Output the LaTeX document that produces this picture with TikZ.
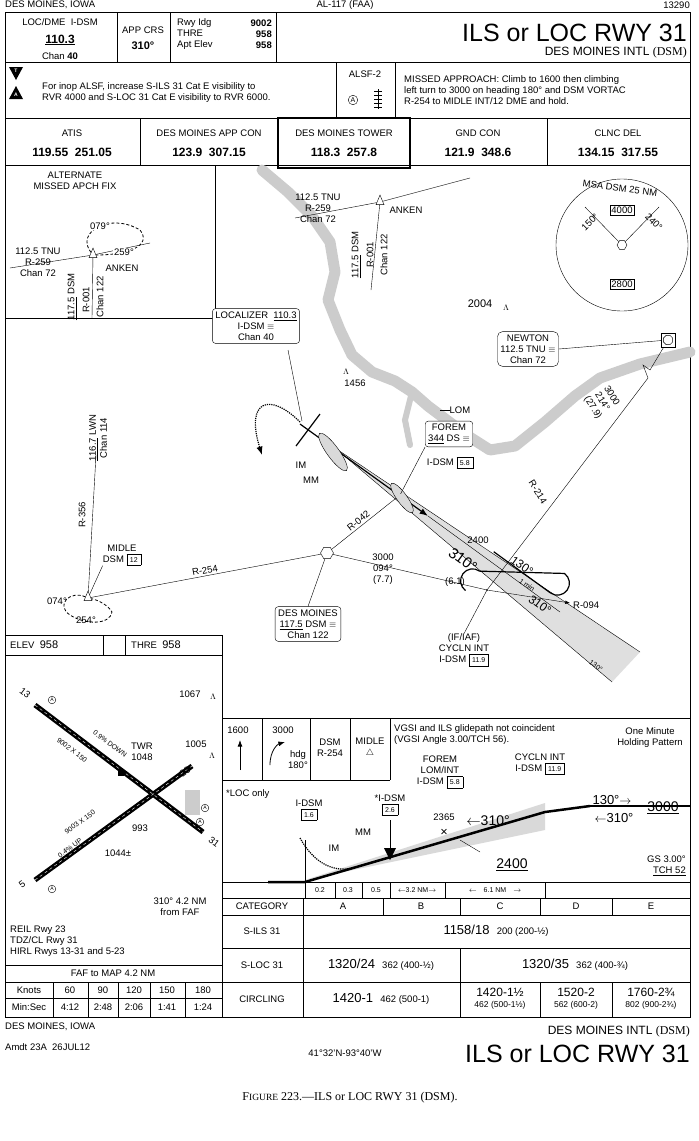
\documentclass[tikz,border=0pt]{standalone}
\usepackage{fontspec}
\setmainfont{Liberation Sans}
\newfontfamily\capfont{Liberation Serif}
\newfontfamily\djv{DejaVu Sans}
\usetikzlibrary{shapes.geometric,arrows.meta}
\newcommand\fs{\fontsize{9.5}{11}\selectfont}
\newcommand\fb{\fontsize{12}{13}\selectfont\bfseries}
\newcommand\bx[1]{\fbox{\scriptsize #1}}
\begin{document}
\begin{tikzpicture}[x=1pt,y=-1pt,
 every node/.style={inner sep=0pt,font=\fs},
 riv/.style={line width=11pt,gray!40,line join=round,line cap=round},
 bxs/.style={draw,rounded corners=3pt,fill=white,inner sep=3pt,align=center},
 vor/.style={draw,regular polygon,regular polygon sides=6,minimum size=13pt,fill=white},
 fix/.style={draw,isosceles triangle,shape border rotate=90,minimum size=8pt,inner sep=0,fill=white},
 hold/.style={densely dashed,thick},
 mapd/.style={densely dotted,very thick}]
\useasboundingbox[fill=white] (0,0) rectangle (699,1141);
% header
\node[anchor=west] (h1) at (5,5) {DES MOINES, IOWA};
\node (h2) at (345,5) {AL-117 (FAA)};
\node[anchor=east] (h3) at (690,5) {13290};
\draw[thick] (5,12) rectangle (690,1017);
\draw (5,62)--(690,62) (5,118)--(690,118) (5,165)--(690,165);
\draw (117,12)--(117,62) (170,12)--(170,62) (276,12)--(276,62);
\node (loc1) at (60,22) {LOC/DME\ \ I-DSM};
\node (loc2) at (60,40) {\fb\underline{110.3}};
\node (loc3) at (60,56) {Chan \textbf{40}};
\node (crs1) at (143,30) {APP CRS};
\node (crs2) at (143,46) {\bfseries\fontsize{11}{12}\selectfont 310°};
\node[anchor=west,align=left] (rw1) at (177,34) {Rwy Idg\\THRE\\Apt Elev};
\node[anchor=east,align=right] (rw2) at (272,34) {\bfseries 9002\\\bfseries 958\\\bfseries 958};
\node[anchor=east] (ttl) at (687,33) {\fontsize{25}{27}\selectfont ILS or LOC RWY 31};
\node[anchor=east] (ttl2) at (687,53) {\fontsize{12}{13}\selectfont DES MOINES INTL \capfont(DSM)};
% row 2
\fill (9,67)--(23,67)--(16,80)--cycle; \node[white] (tT) at (16,71) {\tiny\bfseries T};
\fill (16,86)--(23,99)--(9,99)--cycle; \node[white] (tA) at (16,95) {\tiny\bfseries A};
\node[anchor=west,align=left] (brf) at (42,93) {For inop ALSF, increase S-ILS 31 Cat E visibility to\\RVR 4000 and S-LOC 31 Cat E visibility to RVR 6000.};
\draw (336,62)--(336,118) (395,62)--(395,118);
\node (alsf) at (365,74) {ALSF-2};
\node[draw,circle,inner sep=1pt] (alsfA) at (353,100) {\scriptsize A};
\draw (378,89)--(378,109); \foreach \yy in {91,95,99,103,107}{\draw (374,\yy)--(382,\yy);}
\node[anchor=west,align=left] (ma) at (404,90) {MISSED APPROACH: Climb to 1600 then climbing\\left turn to 3000 on heading 180° and DSM VORTAC\\R-254 to MIDLE INT/12 DME and hold.};
% comm
\draw (140,118)--(140,165) (547,118)--(547,165);
\draw[line width=2pt] (278,118) rectangle (410,168);
\node (c1) at (72,133) {ATIS}; \node (c1b) at (72,152) {\fb 119.55 \ 251.05};
\node (c2) at (209,133) {DES MOINES APP CON}; \node (c2b) at (209,152) {\fb 123.9 \ 307.15};
\node (c3) at (344,133) {DES MOINES TOWER}; \node (c3b) at (344,152) {\fb 118.3 \ 257.8};
\node (c4) at (478,133) {GND CON}; \node (c4b) at (478,152) {\fb 121.9 \ 348.6};
\node (c5) at (618,133) {CLNC DEL}; \node (c5b) at (618,152) {\fb 134.15 \ 317.55};
% plan view river
\draw[riv] (262,170)--(288,192)--(312,216)--(330,242)--(335,272)--(328,300)--(340,330)--(352,355)--(372,372)--(395,381)--(412,392)--(428,406)--(448,421)--(468,436)--(490,450)--(515,446)--(545,422)--(575,396)--(600,378)--(640,364)--(690,352);
\draw[line width=6pt,gray!40,line cap=round] (412,392)--(405,420)--(410,445);
% feather
\fill[gray!25] (335,448)--(640,652)--(612,682)--cycle;
\draw[thin] (335,448)--(640,652) (335,448)--(612,682);
\node[rotate=-36] (f130) at (596,666) {\scriptsize 130°};
% MSA
\draw (622,245) circle (66);
\node[rotate=-8] (msa) at (620,188) {MSA DSM 25 NM};
\node[vor,minimum size=10pt] (msac) at (622,245) {};
\draw (msac)--(585,207) (msac)--(659,207);
\node[rotate=45] (m150) at (590,222) {150°};
\node[rotate=-45] (m240) at (654,222) {240°};
\node[draw,inner sep=1.5pt] (m4000) at (622,210) {4000};
\node[draw,inner sep=1.5pt] (m2800) at (622,284) {2800};
% alternate box
\draw (5,165) rectangle (215,318);
\node[align=center] (alt) at (75,181) {ALTERNATE\\MISSED APCH FIX};
\node[fix] (aank) at (93,255) {};
\draw (10,268)--(aank)--(150,243);
\draw (aank)--(92,318);
\draw[hold] (aank) .. controls (75,232) and (110,212) .. (140,230) .. controls (152,245) and (130,255) .. (aank);
\node[fill=white,inner sep=1pt] (a079) at (100,226) {079°}; \node[fill=white,inner sep=1pt] (a259) at (124,252) {259°};
\node[align=center] (atnu) at (38,262) {112.5 TNU\\R-259\\Chan 72};
\node (aan) at (122,268) {ANKEN};
\node[rotate=90] (av1) at (72,297) {\underline{117.5} DSM};
\node[rotate=90] (av2) at (86,300) {R-001};
\node[rotate=90] (av3) at (100,297) {Chan 122};
% ANKEN
\node[fix] (ank) at (380,202) {};
\draw (295,218)--(ank)--(470,178);
\draw (ank)--(371,290);
\node[align=center] (tnu) at (318,208) {112.5 TNU\\R-259\\Chan 72};
\node (ankl) at (406,210) {ANKEN};
\node[rotate=90] (dv1) at (356,255) {\underline{117.5} DSM};
\node[rotate=90] (dv2) at (370,255) {R-001};
\node[rotate=90] (dv3) at (384,255) {Chan 122};
% spot elevations
\node (e2004) at (480,304) {\fontsize{11}{12}\selectfont 2004}; \node (e2004s) at (506,308) {\footnotesize$\Lambda$};
\node (e1456) at (355,383) {1456}; \node (e1456s) at (346,372) {\footnotesize$\Lambda$};
% NEWTON
\node[draw,minimum size=14pt,fill=white] (newt) at (668,340) {};
\node[draw,regular polygon,regular polygon sides=8,minimum size=10pt] (newt2) at (668,340) {};
\node[bxs,rounded corners=5pt] (newtb) at (528,349) {NEWTON\\112.5 TNU $\equiv$\\Chan 72};
\draw (newtb.east)--(newt);
% DES MOINES VOR and fixes
\node[vor] (dsm) at (327,553) {};
\node[fix] (midle) at (88,598) {};
\node[fill=black,circle,inner sep=0.8pt] (cycln) at (487,590) {};
\node[fill=black,circle,inner sep=0.8pt] (forem) at (400,495) {};
\draw (dsm)--node[sloped,above=2pt] {R-254} (midle);
\draw (dsm)--node[sloped,above=2pt,pos=0.45] {R-042} (forem);
\draw (dsm)--(cycln);
\node[align=center] (l094) at (383,569) {3000\\094°\\(7.7)};
\draw (newt)--(650,370)--(643,365)--(648,378)--(cycln);
\node[rotate=-58] (r214) at (538,492) {R-214};
\node[rotate=-58,align=center] (l214) at (602,402) {3000\\214°\\(27.9)};
\draw[-{Latex}] (cycln)--(570,603); \node[anchor=west] (r094) at (573,605) {R-094};
% localizer course
\draw[very thick,-{Latex}] (300,424)--(428,516);
\draw (428,516)--(560,612);
\draw[very thick] (296,446)--(320,414);
\draw[fill=gray!30,rotate around={-54:(333,452)}] (333,452) ellipse (23 and 6);
\draw[fill=gray!30,rotate around={-54:(402,498)}] (402,498) ellipse (18 and 5);
\node (im) at (301,465) {IM}; \node (mm) at (311,480) {MM};
\draw[mapd,-{Latex}] (300,422) .. controls (270,392) and (245,400) .. (262,455);
\node (l2400) at (478,540) {2400};
\node[rotate=-36,font=\fontsize{15}{16}\selectfont] (l310) at (463,560) {310°};
\node (l61) at (455,582) {(6.1)};
\draw[very thick,rotate around={-36:(515,582)}] (480,570)--(550,570) arc (90:-90:12)--(480,594) arc (270:90:12);
\node[rotate=-36,font=\fontsize{12}{13}\selectfont] (h130) at (522,566) {130°};
\node[rotate=-36] (h1m) at (527,585) {\scriptsize 1 min};
\node[rotate=-36,font=\fontsize{12}{13}\selectfont] (h310) at (540,605) {310°};
% LOCALIZER box
\node[bxs] (locb) at (256,326) {LOCALIZER \ \underline{110.3}\\I-DSM $\equiv$\\Chan 40};
\draw (288,350)--(302,421);
% LOM box
\node (lom) at (460,410) {LOM};
\node[bxs] (lomb) at (449,434) {FOREM\\\underline{344} DS $\equiv$};
\draw (lom.west)--(440,410); \draw (lomb.south west)--(forem);
\node (lomi) at (450,463) {I-DSM \bx{5.8}};
% DES MOINES box
\node[bxs] (dsmb) at (308,624) {DES MOINES\\\underline{117.5} DSM $\equiv$\\Chan 122};
\draw (dsmb.north)--(dsm);
% CYCLN
\node[align=center] (cyc) at (464,650) {(IF/IAF)\\CYCLN INT\\I-DSM \bx{11.9}};
\draw (cyc.north)--(cycln);
% MIDLE
\node[align=center] (midl) at (122,555) {MIDLE\\DSM \bx{12}};
\draw (midl.south west)--(midle);
\draw[hold] (midle) .. controls (70,590) and (55,605) .. (70,615) .. controls (85,625) and (110,625) .. (112,612) .. controls (108,605) and (98,600) .. (midle);
\node (m074) at (57,601) {074°}; \node (m254) at (86,620) {254°};
\draw (midle)--(96,455);
\node[rotate=90] (r356) at (82,515) {R-356};
\node[rotate=90,align=center] (lwn) at (98,438) {\underline{116.7} LWN\\Chan 114};
% lower frame lines
\draw (5,635)--(222,635) (5,655)--(222,655) (103,635)--(103,655) (125,635)--(125,655);
\draw (222,635)--(222,1017) (222,718)--(690,718);
\node[anchor=west] (elev) at (10,645) {ELEV \ \fontsize{11}{12}\selectfont 958};
\node[anchor=west] (thre) at (131,645) {THRE \ \fontsize{11}{12}\selectfont 958};
% airport
\draw[line width=5pt] (35,705)--(203,832);
\draw[line width=5pt] (35,880)--(192,766);
\draw[white,dashed,thin] (35,705)--(203,832) (35,880)--(192,766);
\node[rotate=-37] (r1) at (72,750) {\scriptsize 9002 X 150};
\node[rotate=-37] (r2) at (110,744) {\scriptsize 0.9\% DOWN};
\node[rotate=36] (r3) at (80,822) {\scriptsize 9003 X 150};
\node[rotate=36] (r4) at (70,848) {\scriptsize 0.4\% UP};
\node[rotate=-37] (n13) at (25,693) {13}; \node[rotate=-37] (n31) at (214,842) {31};
\node[rotate=36] (n5) at (22,884) {5}; \node[rotate=36] (n23) at (185,772) {23};
\node (e1067) at (190,694) {1067}; \node (e1067s) at (213,697) {\footnotesize$\Lambda$};
\node (e1005) at (196,744) {1005}; \node (e1005s) at (212,756) {\footnotesize$\Lambda$};
\node[align=center] (twr) at (142,752) {TWR\\1048}; \fill (118,770) rectangle (124,776);
\node (e993) at (140,828) {993}; \node (e1044) at (118,853) {1044±};
\node[draw,circle,inner sep=1pt] (ap1) at (200,822) {\tiny A};
\node[draw,circle,inner sep=1pt] (ap2) at (52,700) {\tiny A};
\node[draw,circle,inner sep=1pt] (ap3) at (52,889) {\tiny A};
\node[draw,circle,inner sep=1pt] (ap4) at (205,808) {\tiny A};
\fill[gray!40] (185,790) rectangle (200,815);
\node[align=center] (ff) at (180,907) {310° 4.2 NM\\from FAF};
\node[anchor=west,align=left] (lights) at (10,941) {REIL Rwy 23\\TDZ/CL Rwy 31\\HIRL Rwys 13-31 and 5-23};
\draw (5,965)--(222,965) (5,982)--(222,982) (5,998)--(222,998);
\node (faf) at (113,973) {FAF to MAP 4.2 NM};
\foreach \xx in {53,88,118,150,185}{\draw (\xx,982)--(\xx,1017);}
\node (k0) at (29,990) {Knots}; \node (k1) at (70,990) {60}; \node (k2) at (103,990) {90}; \node (k3) at (134,990) {120}; \node (k4) at (167,990) {150}; \node (k5) at (203,990) {180};
\node (s0) at (29,1007) {Min:Sec}; \node (s1) at (70,1007) {4:12}; \node (s2) at (103,1007) {2:48}; \node (s3) at (134,1007) {2:06}; \node (s4) at (167,1007) {1:41}; \node (s5) at (203,1007) {1:24};
% profile
\draw (262,718)--(262,780) (310,718)--(310,780) (350,718)--(350,780) (390,718)--(390,780) (222,780)--(390,780);
\node (p1600) at (238,730) {1600}; \draw[thick,-{Latex}] (240,770)--(240,740);
\node (p3000) at (283,730) {3000}; \node[align=center] (phdg) at (298,760) {hdg\\180°};
\draw[thick,-{Latex}] (270,765) .. controls (270,750) and (278,744) .. (285,742);
\node[align=center] (pdsm) at (330,748) {DSM\\R-254};
\node[align=center] (pmid) at (370,748) {MIDLE\\$\triangle$};
\node[anchor=west,align=left] (vgsi) at (394,735) {VGSI and ILS glidepath not coincident\\(VGSI Angle 3.00/TCH 56).};
\node[align=center] (omh) at (650,738) {One Minute\\Holding Pattern};
\node[align=center] (pfor) at (440,772) {FOREM\\LOM/INT\\I-DSM \bx{5.8}};
\node[align=center] (pcyc) at (540,764) {CYCLN INT\\I-DSM \bx{11.9}};
\node[anchor=west] (loconly) at (226,794) {*LOC only};
\node[align=center] (pid16) at (309,810) {I-DSM\\\bx{1.6}};
\node[align=center] (pid26) at (390,805) {*I-DSM\\\bx{2.6}};
\fill[gray!30] (305,880)--(545,803)--(545,830)--cycle;
\draw[line width=2.5pt] (268,882)--(305,882)--(545,812)--(590,806);
\draw[line width=2.5pt] (590,806)--(690,806);
\draw[mapd] (300,838) .. controls (315,865) and (335,872) .. (352,868);
\draw (305,882)--(305,840);
\fill (384,848)--(396,848)--(390,860)--cycle; \draw (390,848)--(390,820);
\node (pim) at (334,848) {IM}; \node (pmm) at (363,832) {MM};
\node (p2365) at (444,817) {2365}; \node (pst) at (444,832) {\djv\bfseries ✕};
\node[font=\fontsize{14}{15}\selectfont] (p310) at (488,821) {$\leftarrow$310°};
\node[font=\fontsize{14}{15}\selectfont] (p2400) at (512,865) {\underline{2400}};
\draw (480,852)--(460,840);
\node[font=\fontsize{13}{14}\selectfont] (p130) at (612,800) {130°$\rightarrow$};
\node[font=\fontsize{13}{14}\selectfont] (p310b) at (614,818) {$\leftarrow$310°};
\node[font=\fontsize{14}{15}\selectfont] (p3000b) at (663,808) {\underline{3000}};
\node[align=right,anchor=east] (gs) at (686,866) {GS 3.00°\\\underline{TCH 52}};
\draw (222,882)--(690,882) (222,898)--(690,898);
\foreach \xx in {305,335,362,390,445,545}{\draw (\xx,882)--(\xx,898);}
\node (d1) at (320,890) {\scriptsize 0.2}; \node (d2) at (348,890) {\scriptsize 0.3}; \node (d3) at (376,890) {\scriptsize 0.5};
\node (d4) at (417,890) {\scriptsize $\leftarrow$3.2 NM$\rightarrow$}; \node (d5) at (495,890) {\scriptsize $\leftarrow$\quad 6.1 NM\quad$\rightarrow$};
% minima table
\draw (222,915)--(690,915) (222,948)--(690,948) (222,982)--(690,982);
\draw (303,898)--(303,1017) (383,898)--(383,915) (460,898)--(460,915) (540,898)--(540,915) (612,898)--(612,915);
\draw (460,948)--(460,1017) (540,982)--(540,1017) (612,982)--(612,1017);
\node (tc) at (262,906) {CATEGORY};
\node (ta) at (343,906) {A}; \node (tb) at (421,906) {B}; \node (tcc) at (500,906) {C}; \node (td) at (576,906) {D}; \node (te) at (651,906) {E};
\node (tr1) at (262,931) {S-ILS 31}; \node (tr2) at (262,965) {S-LOC 31}; \node (tr3) at (262,999) {CIRCLING};
\node (v1) at (496,931) {\fontsize{13}{14}\selectfont 1158/18 \ \fs 200 (200-½)};
\node (v2) at (381,965) {\fontsize{13}{14}\selectfont 1320/24 \ \fs 362 (400-½)};
\node (v3) at (575,965) {\fontsize{13}{14}\selectfont 1320/35 \ \fs 362 (400-¾)};
\node (v4) at (381,999) {\fontsize{13}{14}\selectfont 1420-1 \ \fs 462 (500-1)};
\node[align=center] (v5) at (500,999) {\fontsize{12}{13}\selectfont 1420-1½\\\fontsize{8.5}{10}\selectfont 462 (500-1½)};
\node[align=center] (v6) at (576,999) {\fontsize{12}{13}\selectfont 1520-2\\\fontsize{8.5}{10}\selectfont 562 (600-2)};
\node[align=center] (v7) at (651,999) {\fontsize{12}{13}\selectfont 1760-2¾\\\fontsize{8.5}{10}\selectfont 802 (900-2¾)};
% footer
\node[anchor=west] (f1) at (5,1027) {DES MOINES, IOWA};
\node[anchor=west] (f2) at (5,1047) {Amdt 23A \ 26JUL12};
\node (f3) at (345,1053) {41°32'N-93°40'W};
\node[anchor=east] (f4) at (690,1032) {\fontsize{12}{13}\selectfont DES MOINES INTL \capfont(DSM)};
\node[anchor=east] (f5) at (690,1054) {\fontsize{25}{27}\selectfont ILS or LOC RWY 31};
\node (cap) at (350,1098) {\capfont\fontsize{12}{13}\selectfont F{\fontsize{9.5}{10}\selectfont IGURE} 223.—ILS or LOC RWY 31 (DSM).};
\end{tikzpicture}
\end{document}
